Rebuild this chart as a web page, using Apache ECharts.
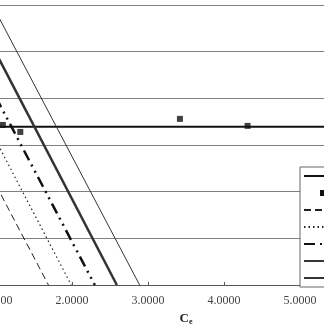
<!DOCTYPE html>
<html>
<head>
<meta charset="utf-8">
<script src="https://cdn.jsdelivr.net/npm/echarts@6/dist/echarts.min.js"></script>
<style>
  html, body { margin: 0; padding: 0; background: #fff; }
  #chart { width: 324px; height: 324px; }
</style>
</head>
<body>
<div id="chart"></div>
<script>
// x ticks (C_e) and y range
const xTicks = [0, 1, 2, 3, 4, 5, 6, 7]
const yRange = [0, 6]

// series names (legend text falls outside the crop)
const names = ['Isotherm', 'Experimental', 'Line 1', 'Line 2', 'Line 3', 'Line 4', 'Line 5']

// values
const isotherm = [[0, 3.39], [7, 3.39]]
const experimental = [[1.09, 3.43], [1.32, 3.28], [3.42, 3.56], [4.31, 3.41]]
const line1 = [[1.0, 2.14], [1.69, 0]]   // dashed
const line2 = [[1.0, 3.09], [1.99, 0]]   // dotted
const line3 = [[1.0, 4.02], [2.30, 0]]   // dash-dot
const line4 = [[1.0, 4.97], [2.59, 0]]   // thick
const line5 = [[1.0, 5.85], [2.89, 0]]   // thin

const chart = echarts.init(document.getElementById('chart'))

const lineSeries = (name, data, style) => ({
  name,
  type: 'line',
  data,
  symbol: 'none',
  silent: true,
  lineStyle: style,
})

// small square centred in a 38x10 legend slot
const squareIcon = 'path://M0,0L0.01,0L0,0.01Z M16,2L22,2L22,8L16,8Z M38,10L37.99,10L38,9.99Z'

chart.setOption({
  animation: false,
  backgroundColor: '#fff',
  textStyle: { fontFamily: 'Liberation Serif' },
  grid: { left: -80, top: 5, width: 532, height: 280, containLabel: false, outerBoundsMode: 'none' },
  xAxis: {
    type: 'value',
    min: xTicks[0],
    max: xTicks[xTicks.length - 1],
    interval: 1,
    name: '{c|C}{e|e}',
    nameLocation: 'middle',
    nameGap: 27,
    nameTextStyle: {
      rich: {
        c: { fontSize: 13, fontWeight: 'bold', fontFamily: 'Liberation Serif', color: '#222' },
        e: { fontSize: 8, fontWeight: 'bold', fontFamily: 'Liberation Serif', color: '#222', padding: [6, 0, 0, 0] },
      },
    },
    axisLine: { lineStyle: { color: '#555' } },
    axisTick: { inside: true, length: 3, lineStyle: { color: '#555' } },
    axisLabel: {
      color: '#444',
      fontSize: 12,
      margin: 10,
      formatter: (v) => v.toFixed(4),
    },
    splitLine: { show: false },
  },
  yAxis: {
    type: 'value',
    min: yRange[0],
    max: yRange[1],
    interval: 1,
    axisLine: { show: true, lineStyle: { color: '#555' } },
    axisLabel: { color: '#444', fontSize: 12 },
    splitLine: { lineStyle: { color: '#808080', width: 1.2 } },
  },
  legend: {
    orient: 'vertical',
    left: 300,
    top: 167,
    padding: [4, 6, 4, 3],
    itemWidth: 38,
    itemHeight: 10,
    itemGap: 7,
    backgroundColor: '#fff',
    borderColor: '#666',
    borderWidth: 1,
    borderRadius: 0,
    textStyle: { fontSize: 10, lineHeight: 10, color: '#222' },
    itemStyle: { opacity: 0 },
    data: names.map((n, i) => i === 1
      ? { name: n, icon: squareIcon, itemStyle: { opacity: 1, color: '#111' } }
      : { name: n }),
  },
  series: [
    lineSeries(names[0], isotherm, { color: '#111', width: 2 }),
    {
      name: names[1],
      type: 'scatter',
      data: experimental,
      symbol: 'rect',
      symbolSize: 6,
      itemStyle: { color: '#111' },
    },
    lineSeries(names[2], line1, { color: '#222', width: 1, type: [7, 4] }),
    lineSeries(names[3], line2, { color: '#222', width: 1.2, type: [1.5, 3] }),
    lineSeries(names[4], line3, { color: '#111', width: 2.5, type: [11, 5, 2, 5, 2, 5] }),
    lineSeries(names[5], line4, { color: '#333', width: 2.5 }),
    lineSeries(names[6], line5, { color: '#333', width: 1 }),
  ],
})
</script>
</body>
</html>
